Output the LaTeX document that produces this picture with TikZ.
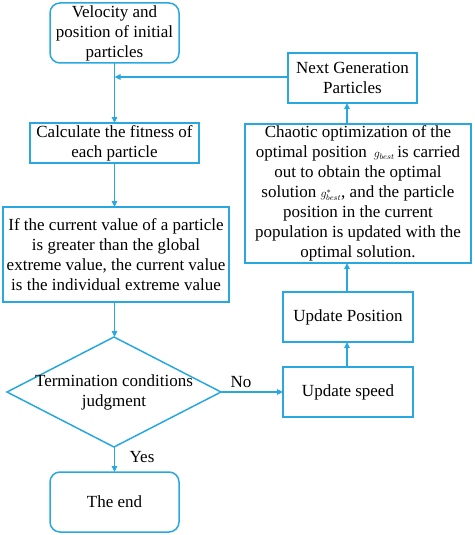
\documentclass[tikz,border=0pt]{standalone}
\usepackage{fontspec}
\setmainfont{Liberation Serif}
\usetikzlibrary{shapes.geometric,arrows.meta}
\definecolor{fc}{RGB}{41,168,224}
\begin{document}
\begin{tikzpicture}[x=1pt,y=-1pt,
  every node/.style={font=\fontsize{17}{20}\selectfont, align=center, text=black},
  box/.style={draw=fc, line width=1.5pt, rectangle, inner sep=0pt},
  rbox/.style={box, rounded corners=10pt},
  arr/.style={draw=fc, line width=1.5pt, -{Triangle[length=6pt,width=5.5pt]}},
  ln/.style={draw=fc, line width=1.5pt}]
\useasboundingbox (0,0) rectangle (474,535);
% boxes drawn with exact extents
\draw[rbox] (50,3) rectangle (179,63);
\node (init) at (114.5,33) {Velocity and\\position of initial\\particles};
\draw[box] (30,123) rectangle (199,163);
\node (calc) at (114.5,143) {Calculate the fitness of\\each particle};
\draw[box] (3,207) rectangle (229,302);
\node (ifb) at (116,254.5) {If the current value of a particle\\is greater than the global\\extreme value, the current value\\is the individual extreme value};
\draw[ln] (7,392) -- (114,337) -- (221,392) -- (114,447) -- cycle;
\node (term) at (114,392) {Termination conditions\\judgment};
\draw[rbox] (50,472) rectangle (179,532);
\node (end) at (114.5,502) {The end};
\draw[box] (283,367) rectangle (413,417);
\node (speed) at (348,392) {Update speed};
\draw[box] (283,292) rectangle (413,342);
\node (pos) at (348,317) {Update Position};
\draw[box] (245,124) rectangle (471,263);
\node (chaos) at (358,193.5) {Chaotic optimization of the\\optimal position \,${\scriptstyle g_{best}}$\,is carried\\out to obtain the optimal\\solution ${\scriptstyle g^{*}_{best}}$, and the particle\\position in the current\\population is updated with the\\optimal solution.};
\draw[box] (288,53) rectangle (417,103);
\node (next) at (352.5,78) {Next Generation\\Particles};
% coordinates
\coordinate (a1) at (114.5,63);
\coordinate (a2) at (114.5,123);
\coordinate (a3) at (114.5,163);
\coordinate (a4) at (114.5,207);
\coordinate (a5) at (114.5,302);
\coordinate (a6) at (114.5,337);
\coordinate (a7) at (114.5,447);
\coordinate (a8) at (114.5,472);
\coordinate (b1) at (221,392);
\coordinate (b2) at (283,392);
\coordinate (c1) at (347,367);
\coordinate (c2) at (347,342);
\coordinate (c3) at (347,292);
\coordinate (c4) at (347,263);
\coordinate (c5) at (347,124);
\coordinate (c6) at (347,103);
\coordinate (d1) at (288,77);
\coordinate (d2) at (114.5,77);
% connectors
\draw[arr] (a1) -- (a2);
\draw[arr] (d1) -- (d2);
\draw[arr] (a3) -- (a4);
\draw[arr] (a5) -- (a6);
\draw[arr] (a7) -- (a8);
\draw[arr] (b1) -- (b2);
\draw[arr] (c1) -- (c2);
\draw[arr] (c3) -- (c4);
\draw[arr] (c5) -- (c6);
\node (no) at (241,382) {No};
\node (yes) at (142,457) {Yes};
\end{tikzpicture}
\end{document}
